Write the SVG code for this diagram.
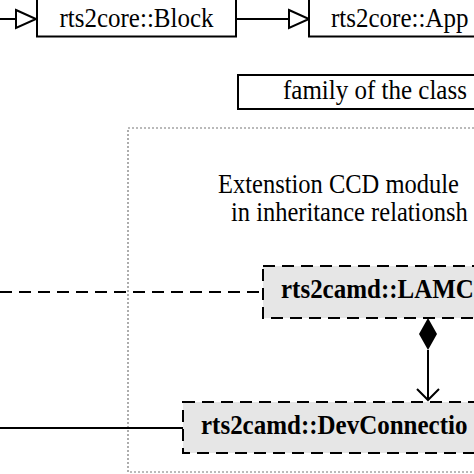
<svg xmlns="http://www.w3.org/2000/svg" width="474" height="474" viewBox="0 0 474 474">
<style>
.box{fill:#fff;stroke:#000;stroke-width:2}
.dbox{fill:#e6e6e6;stroke:#000;stroke-width:2;stroke-dasharray:12 7}
.t{font-family:"Liberation Serif","Times New Roman",serif;font-size:25px;fill:#000}
.b{font-weight:bold}
.ln{stroke:#000;stroke-width:2;fill:none}
.tri{fill:#fff;stroke:#000;stroke-width:2}
</style>
<rect width="474" height="474" fill="#fff"/>
<g id="container">
<rect x="128" y="128" width="400" height="344" fill="none" stroke="#777" stroke-width="1.2" stroke-dasharray="2 2"/>
<text class="t" transform="translate(0,193) scale(1,1.1)" x="218" y="0" style="font-size:24.5px">Extenstion CCD module</text>
<text class="t" transform="translate(0,221) scale(1,1.1)" x="231" y="0" style="font-size:24.5px">in inheritance relationsh</text>
</g>
<g id="connectors">
<line class="ln" x1="0" y1="19" x2="16" y2="19"/>
<polygon class="tri" points="16,10 36,19 16,28"/>
<line class="ln" x1="236" y1="19" x2="289" y2="19"/>
<polygon class="tri" points="289,10 309,19 289,28"/>
<line class="ln" x1="0" y1="292" x2="263" y2="292" style="stroke-dasharray:12 7"/>
<polygon points="428,318 437,334 428,350 419,334" fill="#000"/>
<line class="ln" x1="428" y1="350" x2="428" y2="400"/>
<polyline class="ln" points="417,389 428,400 439,389"/>
<line class="ln" x1="0" y1="428" x2="183" y2="428"/>
</g>
<g id="block">
<rect class="box" x="37" y="-5" width="199" height="41.5"/>
<text class="t" transform="translate(0,27) scale(1,1.1)" x="136.5" y="0" text-anchor="middle">rts2core::Block</text>
</g>
<g id="application">
<rect class="box" x="309" y="-5" width="200" height="41.5"/>
<text class="t" transform="translate(0,27) scale(1,1.1)" x="331" y="0">rts2core::App</text>
</g>
<g id="family">
<rect class="box" x="238" y="75" width="260" height="34"/>
<text class="t" transform="translate(0,99) scale(1,1.1)" x="283" y="0">family of the class</text>
</g>
<g id="lamc">
<rect class="dbox" x="263" y="266" width="250" height="52"/>
<text class="t b" transform="translate(0,298) scale(1,1.1)" x="281" y="0">rts2camd::LAMC</text>
</g>
<g id="devconnection">
<rect class="dbox" x="183" y="402" width="320" height="51"/>
<text class="t b" transform="translate(0,434) scale(1,1.1)" x="201" y="0">rts2camd::DevConnectio</text>
</g>
</svg>
